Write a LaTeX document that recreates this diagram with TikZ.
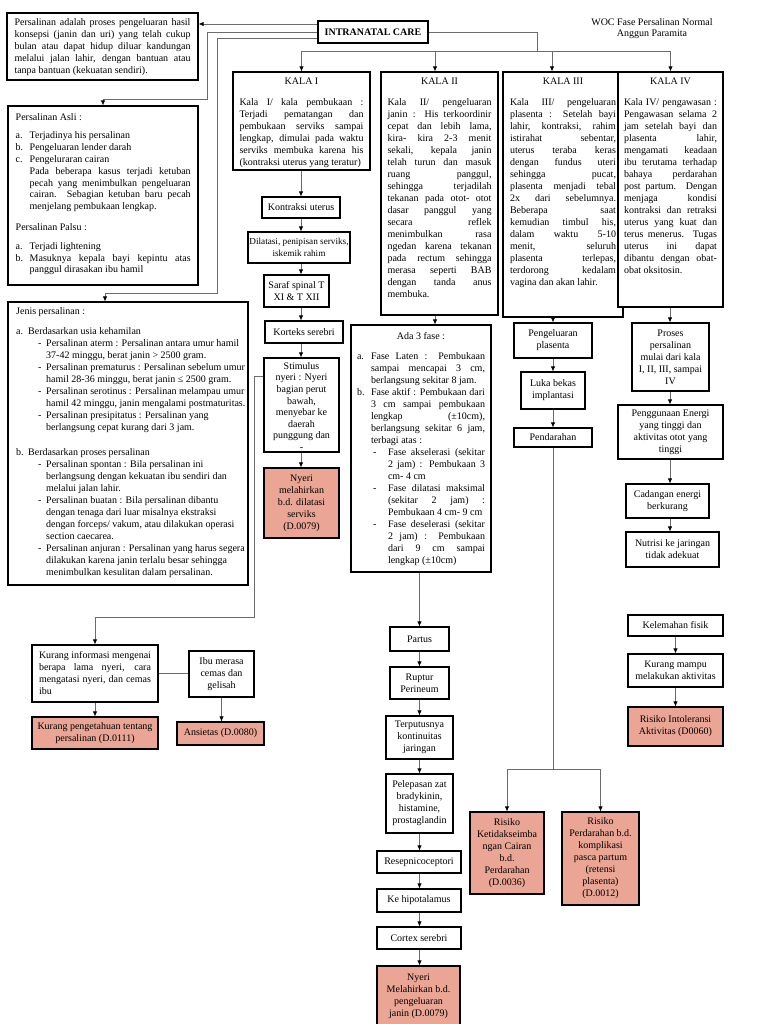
\documentclass[tikz,border=0pt]{standalone}
\usepackage{fontspec}
\setmainfont{Liberation Serif}
\usetikzlibrary{arrows.meta}
\definecolor{salmon}{HTML}{EAA595}
\definecolor{lnc}{gray}{0.42}
\newcommand\fs{\fontsize{10}{12}\selectfont\tolerance=10000\hyphenpenalty=10000\exhyphenpenalty=10000\relax}
\newcommand\fsa{\fontsize{10}{11.8}\selectfont\tolerance=10000\hyphenpenalty=10000\exhyphenpenalty=10000\relax}
\newcommand\fsm{\fontsize{9.2}{12}\selectfont}
\newcommand\bx[7]{\node[#6,minimum width={(#4)-(#2)},minimum height={(#5)-(#3)}] (#1) at ({((#2)+(#4))/2},{((#3)+(#5))/2}) {#7};}
\newcommand\itm[4]{\par\begingroup\leftskip=#1\relax\hangindent=#2\relax\hangafter=1\noindent\makebox[#2][l]{#3}#4\par\endgroup}
\newcommand\ttl[1]{\par{\centering #1\par}}
\begin{document}
\begin{tikzpicture}[x=1pt,y=-1pt,
 every node/.style={font=\fs},
 box/.style={draw=black,line width=1.1pt,fill=white,inner sep=0pt,align=center},
 dx/.style={box,fill=salmon},
 txt/.style={inner sep=0pt,align=justify},
 ln/.style={draw=lnc,line width=0.8pt},
 arr/.style={ln,-{Latex[length=5pt,width=4.5pt,color=black]}}]
\fill[white] (0,0) rectangle (768,1024);
\useasboundingbox (0,0) rectangle (768,1024);

% ---------- top ----------
\bx{tl}{7}{13}{198}{80}{box}{}
\node[txt,text width=176pt] (tlt) at (102.5,47) {\noindent Persalinan adalah proses pengeluaran hasil\linebreak konsepsi (janin dan uri) yang telah cukup\linebreak bulan atau dapat hidup diluar kandungan\linebreak melalui jalan lahir, dengan bantuan atau\linebreak tanpa bantuan (kekuatan sendiri).};

\bx{ic}{318}{21}{428}{43}{box,line width=1.8pt,font=\fs\bfseries}{INTRANATAL CARE}
\node[align=center,inner sep=0pt,font=\fontsize{10}{11}\selectfont] (woc) at (652,28.5) {WOC Fase Persalinan Normal\\Anggun Paramita};

% ---------- left column ----------
\bx{pa}{8}{106}{198}{285}{box}{}
\node[txt,text width=175pt,anchor=north west,font=\fsa] (pat) at (15.5,113) {\noindent Persalinan Asli :\par\vspace{7pt}
\itm{0pt}{14pt}{a.}{Terjadinya his persalinan}
\itm{0pt}{14pt}{b.}{Pengeluaran lender darah}
\itm{0pt}{14pt}{c.}{Pengeluraran cairan}
\itm{14pt}{0pt}{}{Pada beberapa kasus terjadi ketuban\linebreak pecah yang menimbulkan pengeluaran\linebreak cairan. Sebagian ketuban baru pecah\linebreak menjelang pembukaan lengkap.}
\vspace{9pt}\noindent Persalinan Palsu :\par\vspace{7pt}
\itm{0pt}{14pt}{a.}{Terjadi lightening}
\itm{0pt}{14pt}{b.}{Masuknya kepala bayi kepintu atas\linebreak panggul dirasakan ibu hamil}};

\bx{jp}{8}{302}{248}{585}{box}{}
\node[align=left,inner sep=0pt,anchor=north west] (jpt) at (16,307.5) {Jenis persalinan :\\[8pt]
\makebox[12pt][l]{a.}Berdasarkan usia kehamilan\\
\hspace*{22pt}\makebox[8pt][l]{-}Persalinan aterm : Persalinan antara umur hamil\\
\hspace*{30pt}37-42 minggu, berat janin > 2500 gram.\\
\hspace*{22pt}\makebox[8pt][l]{-}Persalinan prematurus : Persalinan sebelum umur\\
\hspace*{30pt}hamil 28-36 minggu, berat janin ≤ 2500 gram.\\
\hspace*{22pt}\makebox[8pt][l]{-}Persalinan serotinus : Persalinan melampau umur\\
\hspace*{30pt}hamil 42 minggu, janin mengalami postmaturitas.\\
\hspace*{22pt}\makebox[8pt][l]{-}Persalinan presipitatus : Persalinan yang\\
\hspace*{30pt}berlangsung cepat kurang dari 3 jam.\\[13pt]
\makebox[12pt][l]{b.}Berdasarkan proses persalinan\\
\hspace*{22pt}\makebox[8pt][l]{-}Persalinan spontan : Bila persalinan ini\\
\hspace*{30pt}berlangsung dengan kekuatan ibu sendiri dan\\
\hspace*{30pt}melalui jalan lahir.\\
\hspace*{22pt}\makebox[8pt][l]{-}Persalinan buatan : Bila persalinan dibantu\\
\hspace*{30pt}dengan tenaga dari luar misalnya ekstraksi\\
\hspace*{30pt}dengan forceps/ vakum, atau dilakukan operasi\\
\hspace*{30pt}section caecarea.\\
\hspace*{22pt}\makebox[8pt][l]{-}Persalinan anjuran : Persalinan yang harus segera\\
\hspace*{30pt}dilakukan karena janin terlalu besar sehingga\\
\hspace*{30pt}menimbulkan kesulitan dalam persalinan.};

% ---------- KALA boxes ----------
\bx{k1}{233}{72}{370}{170}{box}{}
\node[txt,text width=124pt,anchor=north] (k1t) at (301.5,72.5) {\ttl{KALA I}\vspace{9pt}\noindent Kala I/ kala pembukaan :\linebreak Terjadi pematangan dan\linebreak pembukaan serviks sampai\linebreak lengkap, dimulai pada waktu\linebreak serviks membuka karena his\linebreak (kontraksi uterus yang teratur)};

\bx{k2}{381}{72}{498}{315}{box}{}
\node[txt,text width=104pt,anchor=north] (k2t) at (439.5,72.5) {\ttl{KALA II}\vspace{9pt}\noindent Kala II/ pengeluaran\linebreak janin : His terkoordinir\linebreak cepat dan lebih lama,\linebreak kira- kira 2-3 menit\linebreak sekali, kepala janin\linebreak telah turun dan masuk\linebreak ruang panggul,\linebreak sehingga terjadilah\linebreak tekanan pada otot- otot\linebreak dasar panggul yang\linebreak secara reflek\linebreak menimbulkan rasa\linebreak ngedan karena tekanan\linebreak pada rectum sehingga\linebreak merasa seperti BAB\linebreak dengan tanda anus\linebreak membuka.};

\bx{k3}{503}{72}{623}{317}{box}{}
\node[txt,text width=106pt,anchor=north] (k3t) at (563,72.5) {\ttl{KALA III}\vspace{9pt}\noindent Kala III/ pengeluaran\linebreak plasenta : Setelah bayi\linebreak lahir, kontraksi, rahim\linebreak istirahat sebentar,\linebreak uterus teraba keras\linebreak dengan fundus uteri\linebreak sehingga pucat,\linebreak plasenta menjadi tebal\linebreak 2x dari sebelumnya.\linebreak Beberapa saat\linebreak kemudian timbul his,\linebreak dalam waktu 5-10\linebreak menit, seluruh\linebreak plasenta terlepas,\linebreak terdorong kedalam\linebreak vagina dan akan lahir.};

\bx{k4}{618}{72}{723}{307}{box}{}
\node[txt,text width=93pt,anchor=north] (k4t) at (670.5,72.5) {\ttl{KALA IV}\vspace{9pt}\noindent Kala IV/ pengawasan :\linebreak Pengawasan selama 2\linebreak jam setelah bayi dan\linebreak plasenta lahir,\linebreak mengamati keadaan\linebreak ibu terutama terhadap\linebreak bahaya perdarahan\linebreak post partum. Dengan\linebreak menjaga kondisi\linebreak kontraksi dan retraksi\linebreak uterus yang kuat dan\linebreak terus menerus. Tugas\linebreak uterus ini dapat\linebreak dibantu dengan obat-\linebreak obat oksitosin.};

% ---------- KALA I chain ----------
\bx{kon}{262}{197}{340}{218}{box}{Kontraksi uterus}
\bx{dil}{248}{232}{350}{263}{box,font=\fsm}{Dilatasi, penipisan serviks,\\iskemik rahim}
\bx{sar}{264}{275}{329}{307}{box}{Saraf spinal T\\XI \& T XII}
\bx{kor}{265}{321}{343}{343}{box}{Korteks serebri}
\bx{sti}{264}{358}{339}{452}{box}{}
\node[align=center,inner sep=0pt,font=\fontsize{10}{11.6}\selectfont] (stit) at (301.5,406.5) {Stimulus\\nyeri : Nyeri\\bagian perut\\bawah,\\menyebar ke\\daerah\\punggung dan\\-};
\bx{ny1}{264}{468}{339}{538}{dx}{Nyeri\\melahirkan\\b.d. dilatasi\\serviks\\(D.0079)}

\bx{ki}{32}{645}{158}{702}{box}{}
\node[txt,text width=112pt] (kit) at (95,673.5) {\noindent Kurang informasi mengenai\linebreak berapa lama nyeri, cara\linebreak mengatasi nyeri, dan cemas\linebreak ibu};
\bx{ib}{189}{651}{254}{697}{box}{Ibu merasa\\cemas dan\\gelisah}
\bx{kp}{32}{717}{158}{749}{dx}{Kurang pengetahuan tentang\\persalinan (D.0111)}
\bx{an}{177}{722}{264}{745}{dx}{Ansietas (D.0080)}

% ---------- KALA II chain ----------
\bx{ada}{351}{325}{491}{572}{box}{}
\node[txt,text width=128pt,anchor=north] (adat) at (421,327) {\ttl{Ada 3 fase :}\vspace{8pt}
\itm{0pt}{14pt}{a.}{Fase Laten : Pembukaan\linebreak sampai mencapai 3 cm,\linebreak berlangsung sekitar 8 jam.}
\itm{0pt}{14pt}{b.}{Fase aktif : Pembukaan dari\linebreak 3 cm sampai pembukaan\linebreak lengkap (±10cm),\linebreak berlangsung sekitar 6 jam,\linebreak terbagi atas :}
\itm{16pt}{15pt}{-}{Fase akselerasi (sekitar\linebreak 2 jam) : Pembukaan 3\linebreak cm- 4 cm}
\itm{16pt}{15pt}{-}{Fase dilatasi maksimal\linebreak (sekitar 2 jam) :\linebreak Pembukaan 4 cm- 9 cm}
\itm{16pt}{15pt}{-}{Fase deselerasi (sekitar\linebreak 2 jam) : Pembukaan\linebreak dari 9 cm sampai\linebreak lengkap (±10cm)}};

\bx{par}{390}{627}{449}{651}{box}{Partus}
\bx{rup}{390}{667}{449}{699}{box}{Ruptur\\Perineum}
\bx{ter}{386}{716}{453}{759}{box}{Terputusnya\\kontinuitas\\jaringan}
\bx{pel}{386}{774}{453}{833}{box}{Pelepasan zat\\bradykinin,\\histamine,\\prostaglandin}
\bx{res}{377}{851}{461}{873}{box}{Resepnicoceptori}
\bx{hip}{377}{889}{461}{912}{box}{Ke hipotalamus}
\bx{cor}{377}{927}{461}{949}{box}{Cortex serebri}
\bx{ny2}{377}{966}{460}{1026}{dx}{Nyeri\\Melahirkan b.d.\\pengeluaran\\janin (D.0079)}

% ---------- KALA III chain ----------
\bx{pp}{514}{323}{592}{358}{box}{Pengeluaran\\plasenta}
\bx{lu}{521}{372}{585}{409}{box}{Luka bekas\\implantasi}
\bx{pd}{514}{428}{592}{447}{box}{Pendarahan}
\bx{r1}{470}{812}{544}{894}{dx}{Risiko\\Ketidakseimba\\ngan Cairan\\b.d.\\Perdarahan\\(D.0036)}
\bx{r2}{562}{812}{639}{905}{dx}{Risiko\\Perdarahan b.d.\\komplikasi\\pasca partum\\(retensi\\plasenta)\\(D.0012)}

% ---------- KALA IV chain ----------
\bx{pr}{632}{323}{709}{391}{box}{Proses\\persalinan\\mulai dari kala\\I, II, III, sampai\\IV}
\bx{pe}{618}{405}{723}{459}{box}{Penggunaan Energi\\yang tinggi dan\\aktivitas otot yang\\tinggi}
\bx{ca}{626}{484}{709}{518}{box}{Cadangan energi\\berkurang}
\bx{nu}{626}{532}{719}{567}{box}{Nutrisi ke jaringan\\tidak adekuat}
\bx{kf}{628}{615}{723}{636}{box}{Kelemahan fisik}
\bx{km}{628}{654}{723}{687}{box}{Kurang mampu\\melakukan aktivitas}
\bx{ri}{628}{707}{723}{746}{dx}{Risiko Intoleransi\\Aktivitas (D0060)}

% ---------- helper coordinates ----------
\coordinate (j2) at (207,99);
\coordinate (j3) at (217,293);
\coordinate (j3b) at (105,293);
\coordinate (j4) at (537,51);
\coordinate (colA) at (301,0);
\coordinate (colB) at (419.5,0);
\coordinate (colC) at (553,0);
\coordinate (colD) at (670,0);
\coordinate (colE) at (675.5,0);
\coordinate (s1) at (254,617);
\coordinate (t3) at (553,769);
\coordinate (k2a) at ([xshift=-4.5pt]k2.north);
\coordinate (k2b) at ([xshift=-4.5pt]k2.south);
\coordinate (k3a) at ([xshift=-11pt]k3.north);

% ---------- connectors ----------
\draw[arr] ([yshift=8pt]ic.west) -- ([yshift=8pt]ic.west -| tl.east);
\draw[arr] (ic.west) -| (j2) -| (pa.north);
\draw[arr] ([yshift=-6pt]ic.west) -| (j3) -- (j3b) -- (j3b |- jp.north);
\draw[ln] (ic.east) -| (j4);
\draw[ln] (k1.north |- j4) -- (k4.north |- j4);
\draw[arr] (k1.north |- j4) -- (k1.north);
\draw[arr] (k2a |- j4) -- (k2a);
\draw[arr] (k3a |- j4) -- (k3a);
\draw[arr] (k4.north |- j4) -- (k4.north);

\foreach \a/\b in {k1/kon,kon/dil,dil/sar,sar/kor,kor/sti,sti/ny1}
  \draw[arr] (colA |- \a.south) -- (colA |- \b.north);
\draw[arr] ([yshift=29pt]sti.west) -| (s1) -| (ki.north);
\draw[ln] (ki.east) -- (ki.east -| ib.west);
\draw[arr] (ki.south) -- (kp.north);
\draw[arr] (ib.south) -- (ib.south |- an.north);

\draw[arr] (k2b) -- (k2b |- ada.north);
\foreach \a/\b in {ada/par,par/rup,rup/ter,ter/pel,pel/res,res/hip,hip/cor,cor/ny2}
  \draw[arr] (colB |- \a.south) -- (colB |- \b.north);

\foreach \a/\b in {k3/pp,pp/lu,lu/pd}
  \draw[arr] (colC |- \a.south) -- (colC |- \b.north);
\draw[ln] (colC |- pd.south) -- (t3);
\draw[ln] (r1.north |- t3) -- (r2.north |- t3);
\draw[arr] (r1.north |- t3) -- (r1.north);
\draw[arr] (r2.north |- t3) -- (r2.north);

\foreach \a/\b in {k4/pr,pr/pe,pe/ca,ca/nu}
  \draw[arr] (colD |- \a.south) -- (colD |- \b.north);
\foreach \a/\b in {kf/km,km/ri}
  \draw[arr] (colE |- \a.south) -- (colE |- \b.north);
\end{tikzpicture}
\end{document}
